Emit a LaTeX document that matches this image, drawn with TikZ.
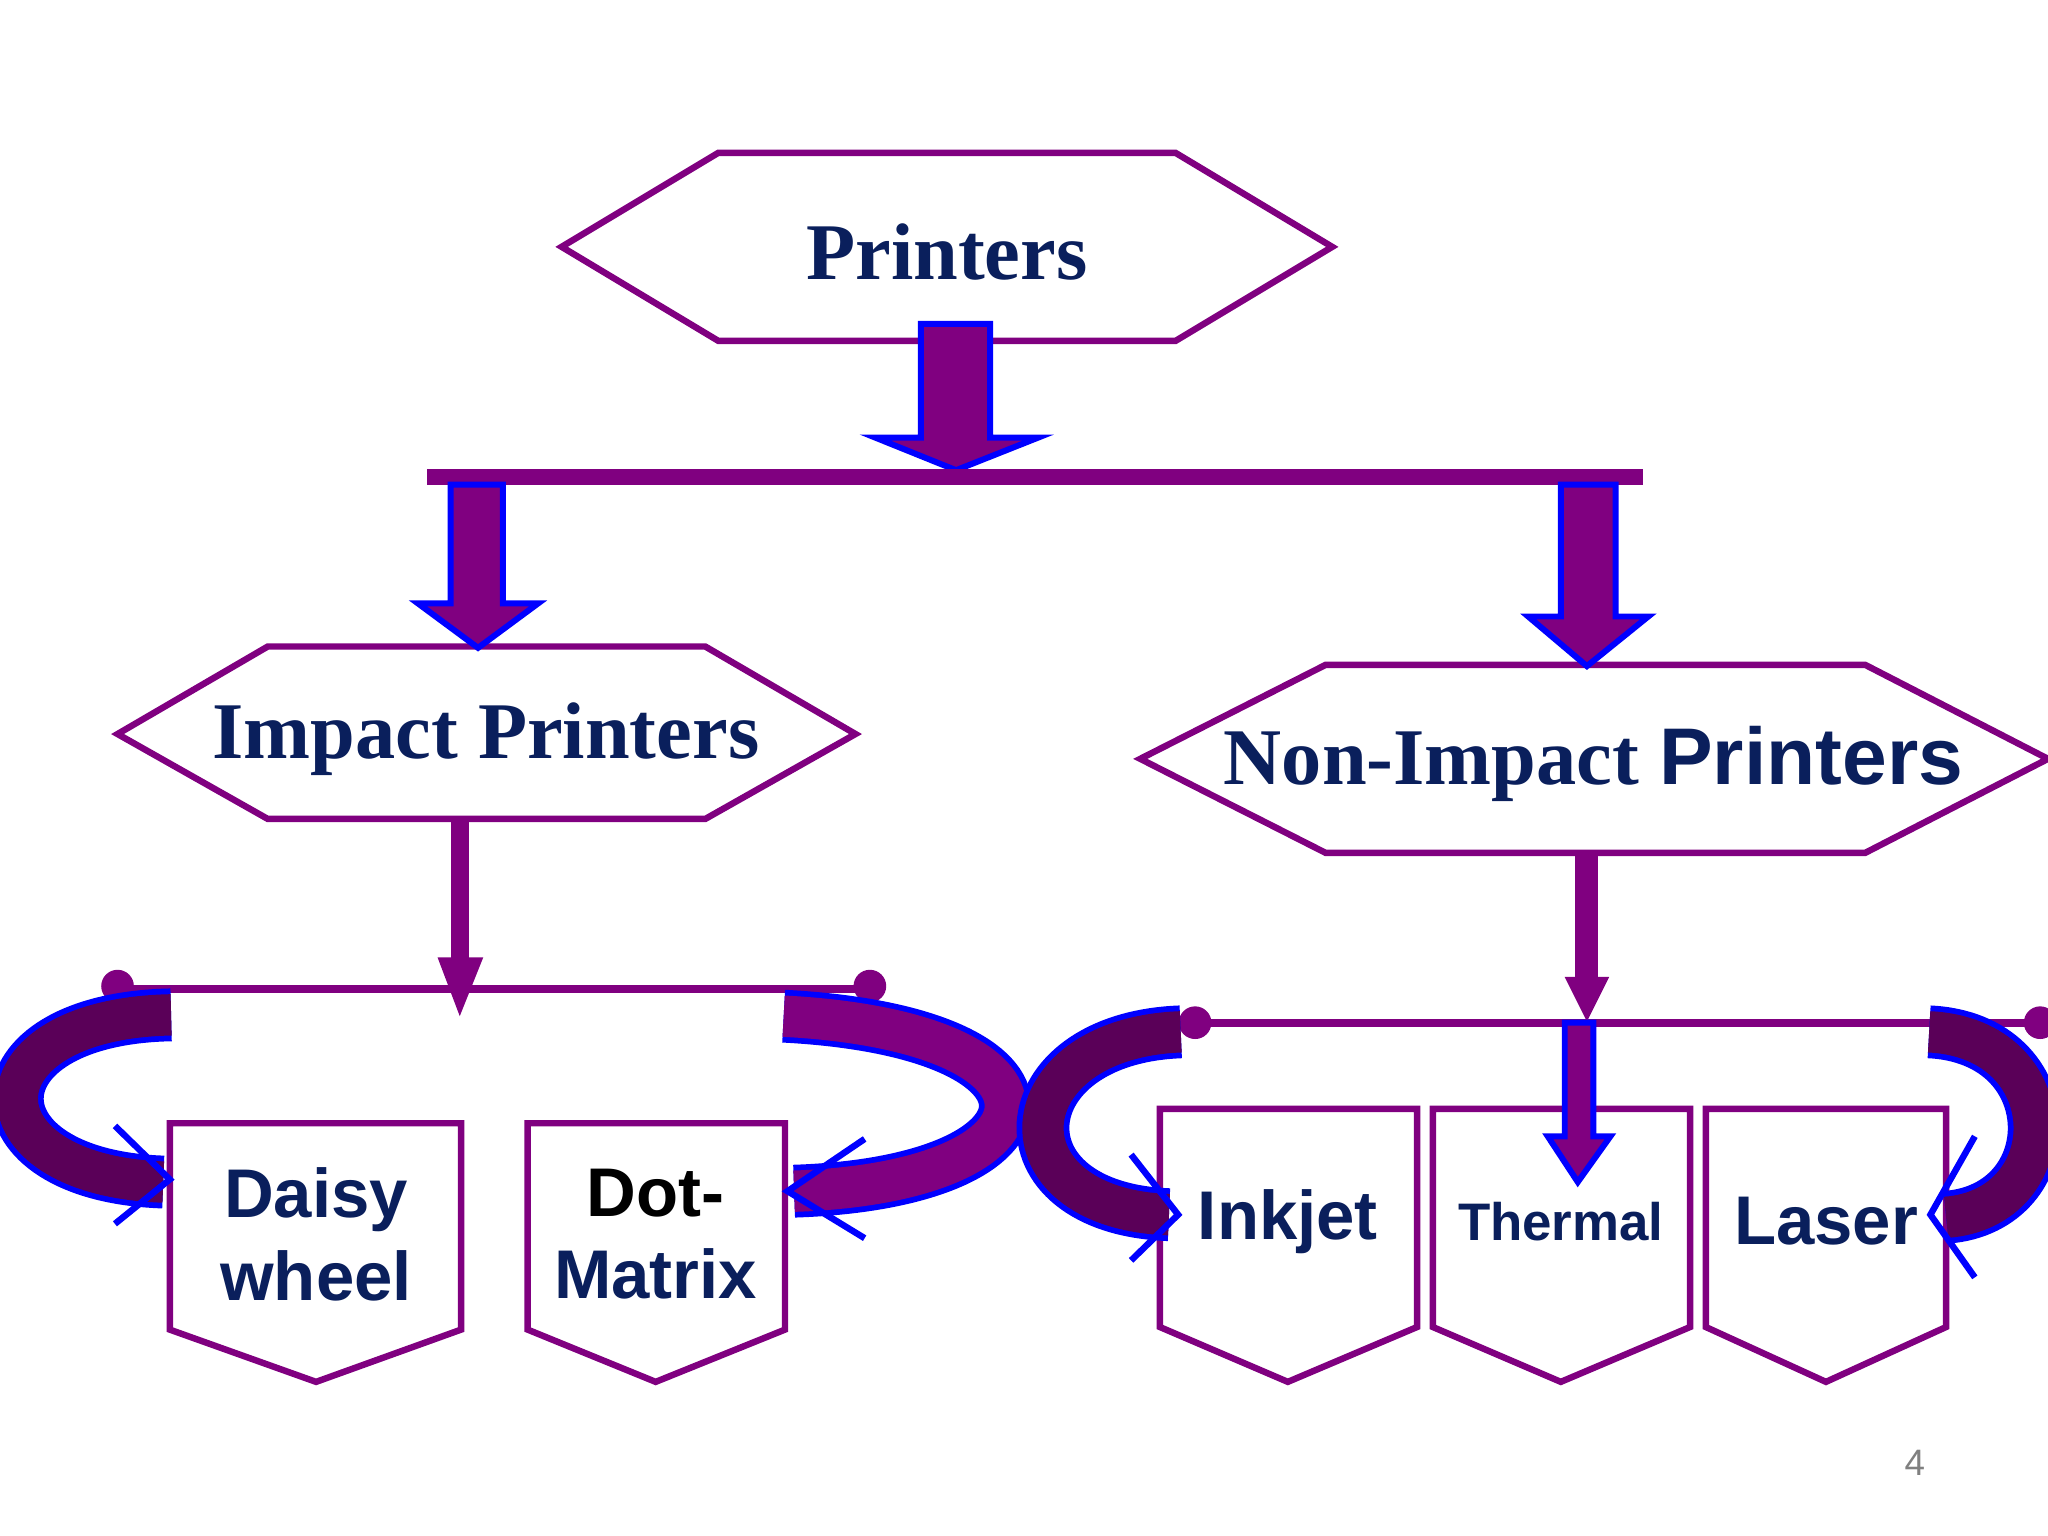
\documentclass[tikz,border=0pt]{standalone}
\usepackage{fontspec}
\setmainfont{Liberation Serif}
\newfontfamily\sansf{Liberation Sans}
\definecolor{pur}{HTML}{800080}
\definecolor{navy}{HTML}{0A1F5C}
\definecolor{dpur}{HTML}{5A0058}
\begin{document}
\begin{tikzpicture}[x=0.01cm,y=-0.01cm,
  shp/.style={draw=pur,line width=1.4pt,fill=white},
  big/.style={fill=pur,draw=blue,line width=1.3pt,line join=miter},
  bar/.style={draw=pur,line width=1.7pt},
  dot/.style={circle,fill=pur,inner sep=0pt,minimum size=0.25cm},
  chev/.style={draw=blue,line width=1.4pt},
  ser/.style={font=\bfseries\fontsize{17.5}{20}\selectfont,text=navy},
  san/.style={font=\sansf\bfseries\fontsize{15}{18}\selectfont,text=navy,align=center}]
\useasboundingbox (0,0) rectangle (1568,1176);
% hexagons
\draw[shp] (430,189)--(550,117)--(900,117)--(1020,189)--(900,261)--(550,261)--cycle;
\node[ser] (pr) at (725,193) {Printers};
\draw[shp] (90,562)--(205,495)--(540,495)--(655,562)--(540,627)--(205,627)--cycle;
\node[ser] (ip) at (372,566) {Impact Printers};
\draw[shp] (873,581)--(1015,509)--(1428,509)--(1568,581)--(1428,653)--(1015,653)--cycle;
\node[ser] (np) at (1220,585) {Non-Impact {\sansf Printers}};
% big arrows
\draw[big] (705,248)--(758,248)--(758,335)--(795,335)--(732,360)--(670,335)--(705,335)--cycle;
\draw[pur,line width=3.4pt] (327,365)--(1258,365);
\draw[big] (345,371)--(385,371)--(385,462)--(412,462)--(366,496)--(320,462)--(345,462)--cycle;
\draw[big] (1195,371)--(1237,371)--(1237,472)--(1262,472)--(1215,510)--(1170,472)--(1195,472)--cycle;
% impact branch
\draw[pur,line width=4pt] (352,627)--(352,740);
\fill[pur] (335,733)--(370,733)--(352,778)--cycle;
\draw[bar] (90,757)--(666,757);
\node[dot] (d1) at (90,755) {};
\node[dot] (d2) at (666,755) {};
% impact boxes
\draw[shp] (130,860)--(353,860)--(353,1018)--(242,1058)--(130,1018)--cycle;
\node[san] (dw) at (242,945) {Daisy\\wheel};
\draw[shp] (404,860)--(601,860)--(601,1018)--(502,1058)--(404,1018)--cycle;
\node[san] (dm) at (502,945) {\textcolor{black}{Dot-}\\Matrix};
% curved arrows impact
\draw[blue,line width=11.5pt] (131,777) .. controls (-25,780) and (-25,900) .. (125,905);
\draw[dpur,line width=9pt] (131,777) .. controls (-25,780) and (-25,900) .. (125,905);
\draw[chev] (88,862)--(130,903)--(88,937);
\draw[blue,line width=11.5pt] (600,778) .. controls (830,790) and (820,905) .. (608,912);
\draw[pur,line width=9pt] (600,778) .. controls (830,790) and (820,905) .. (608,912);
\draw[chev] (662,872)--(603,912)--(662,948);
% non-impact branch
\draw[pur,line width=5pt] (1215,653)--(1215,752);
\fill[pur] (1198,748)--(1232,748)--(1215,782)--cycle;
\draw[bar] (915,783)--(1568,783);
\node[dot] (d3) at (915,783) {};
\node[dot] (d4) at (1562,783) {};
\draw[shp] (888,849)--(1085,849)--(1085,1016)--(986,1058)--(888,1016)--cycle;
\node[san] (ij) at (986,935) {Inkjet};
\draw[shp] (1097,849)--(1294,849)--(1294,1016)--(1195,1058)--(1097,1016)--cycle;
\node[san,font=\sansf\bfseries\fontsize{11.5}{14}\selectfont] (th) at (1195,935) {Thermal};
\draw[shp] (1306,849)--(1490,849)--(1490,1016)--(1398,1058)--(1306,1016)--cycle;
\node[san] (ls) at (1398,935) {Laser};
\draw[big] (1198,783)--(1220,783)--(1220,870)--(1233,870)--(1208,905)--(1185,870)--(1198,870)--cycle;
% curved arrows non-impact
\draw[blue,line width=11.5pt] (904,790) .. controls (770,795) and (760,925) .. (895,930);
\draw[dpur,line width=9pt] (904,790) .. controls (770,795) and (760,925) .. (895,930);
\draw[chev] (866,884)--(902,930)--(866,965);
\draw[blue,line width=11.5pt] (1477,790) .. controls (1582,795) and (1582,925) .. (1490,932);
\draw[dpur,line width=9pt] (1477,790) .. controls (1582,795) and (1582,925) .. (1490,932);
\draw[chev] (1512,870)--(1478,930)--(1512,978);
\node[text=gray,font=\sansf\fontsize{8}{9}\selectfont] (pg) at (1466,1120) {4};
\end{tikzpicture}
\end{document}
